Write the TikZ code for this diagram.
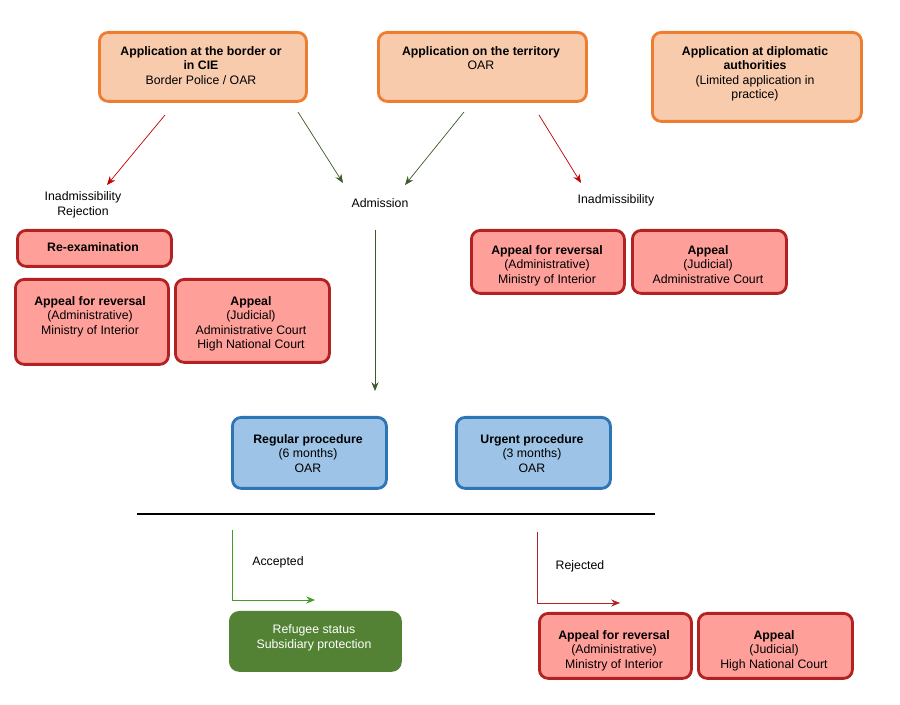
\documentclass[tikz,border=0pt]{standalone}
\usepackage{fontspec}
\setmainfont{Liberation Sans}
\usetikzlibrary{arrows.meta}
\definecolor{orfill}{HTML}{F8CBAD}
\definecolor{ordraw}{HTML}{ED7D31}
\definecolor{rdfill}{HTML}{FF9F9A}
\definecolor{rddraw}{HTML}{B22222}
\definecolor{blfill}{HTML}{9DC3E6}
\definecolor{bldraw}{HTML}{2E75B6}
\definecolor{grfill}{HTML}{548235}
\definecolor{grline}{HTML}{3A5A28}
\definecolor{rdline}{HTML}{C00000}
\begin{document}
\begin{tikzpicture}[x=0.02cm,y=-0.02cm,font=\fontsize{7}{8.3}\selectfont]
        \tikzstyle{box} = [rounded corners=5pt, line width=1.6pt, align=center, anchor=north west, inner sep=2pt]
        \tikzstyle{orbox} = [box, fill=orfill, draw=ordraw]
        \tikzstyle{rdbox} = [box, fill=rdfill, draw=rddraw]
        \tikzstyle{blbox} = [box, fill=blfill, draw=bldraw]
        \tikzstyle{grarr} = [draw=grline, -{Stealth[length=5pt,width=4pt]}]
        \tikzstyle{rdarr} = [draw=rdline, -{Stealth[length=5pt,width=4pt]}]
        \useasboundingbox (0,0) rectangle (900,705);
        % top row
        \node[orbox, minimum width=207*0.02cm, minimum height=69*0.02cm] (AB) at (98,31) {}; 
        \node[anchor=north, align=center] at (201,40) {\textbf{Application at the border or}\\\textbf{in CIE}\\Border Police / OAR}; 
        \node[orbox, minimum width=208*0.02cm, minimum height=69*0.02cm] (AT) at (377,31) {}; 
        \node[anchor=north, align=center] at (481,40) {\textbf{Application on the territory}\\OAR}; 
        \node[orbox, minimum width=209*0.02cm, minimum height=89*0.02cm] (AD) at (651,31) {}; 
        \node[anchor=north, align=center] at (755,40) {\textbf{Application at diplomatic}\\\textbf{authorities}\\(Limited application in\\practice)}; 
        % labels
        \node[align=center] (InL) at (83,205) {Inadmissibility\\Rejection}; 
        \node (Adm) at (380,203) {Admission}; 
        \node (InR) at (616,200) {Inadmissibility}; 
        % left red
        \node[rdbox, minimum width=154*0.02cm, minimum height=36*0.02cm] (RE) at (16,229) {}; 
        \node at (93,247) {\textbf{Re-examination}}; 
        \node[rdbox, minimum width=153*0.02cm, minimum height=85*0.02cm] (AR1) at (14,278) {}; 
        \node[anchor=north, align=center] at (90,290) {\textbf{Appeal for reversal}\\(Administrative)\\Ministry of Interior}; 
        \node[rdbox, minimum width=154*0.02cm, minimum height=83*0.02cm] (AP1) at (174,278) {}; 
        \node[anchor=north, align=center] at (251,290) {\textbf{Appeal}\\(Judicial)\\Administrative Court\\High National Court}; 
        % right red
        \node[rdbox, minimum width=153*0.02cm, minimum height=63*0.02cm] (AR2) at (470,229) {}; 
        \node[anchor=north, align=center] at (547,239) {\textbf{Appeal for reversal}\\(Administrative)\\Ministry of Interior}; 
        \node[rdbox, minimum width=154*0.02cm, minimum height=63*0.02cm] (AP2) at (631,229) {}; 
        \node[anchor=north, align=center] at (708,239) {\textbf{Appeal}\\(Judicial)\\Administrative Court}; 
        % procedures
        \node[blbox, minimum width=154*0.02cm, minimum height=71*0.02cm] (RP) at (231,416) {}; 
        \node[anchor=north, align=center] at (308,428) {\textbf{Regular procedure}\\(6 months)\\OAR}; 
        \node[blbox, minimum width=154*0.02cm, minimum height=71*0.02cm] (UP) at (455,416) {}; 
        \node[anchor=north, align=center] at (532,428) {\textbf{Urgent procedure}\\(3 months)\\OAR}; 
        \coordinate (L1) at (137,514); 
        \coordinate (L2) at (655,514); 
        \draw[line width=1pt] (L1) -- (L2); 
        % outcomes
        \node (Acc) at (278,562) {Accepted}; 
        \node (Rej) at (580,566) {Rejected}; 
        \node[box, fill=grfill, draw=grfill, minimum width=170*0.02cm, minimum height=58*0.02cm] (RS) at (229,611) {}; 
        \node[text=white, align=center] at (314,638) {Refugee status\\Subsidiary protection}; 
        \node[rdbox, minimum width=152*0.02cm, minimum height=65*0.02cm] (AR3) at (538,612) {}; 
        \node[anchor=north, align=center] at (614,624) {\textbf{Appeal for reversal}\\(Administrative)\\Ministry of Interior}; 
        \node[rdbox, minimum width=154*0.02cm, minimum height=65*0.02cm] (AP3) at (697,612) {}; 
        \node[anchor=north, align=center] at (774,624) {\textbf{Appeal}\\(Judicial)\\High National Court}; 
        % arrows
        \coordinate (a1) at (165,115); \coordinate (b1) at (107,185); 
        \coordinate (a2) at (298,112); \coordinate (b2) at (343,183); 
        \coordinate (a3) at (464,112); \coordinate (b3) at (405,185); 
        \coordinate (a4) at (539,115); \coordinate (b4) at (581,183); 
        \coordinate (a5) at (375,230); \coordinate (b5) at (375,391); 
        \coordinate (a6) at (232,530); \coordinate (b6) at (315,600); 
        \coordinate (a7) at (537,532); \coordinate (b7) at (620,603); 
        \draw[rdarr] (a1) -- (b1); 
        \draw[grarr] (a2) -- (b2); 
        \draw[grarr] (a3) -- (b3); 
        \draw[rdarr] (a4) -- (b4); 
        \draw[grarr] (a5) -- (b5); 
        \draw[grarr, draw=grfill!80!green] (a6) |- (b6); 
        \draw[rdarr, draw=rddraw] (a7) |- (b7); 
      \end{tikzpicture}
\end{document}
